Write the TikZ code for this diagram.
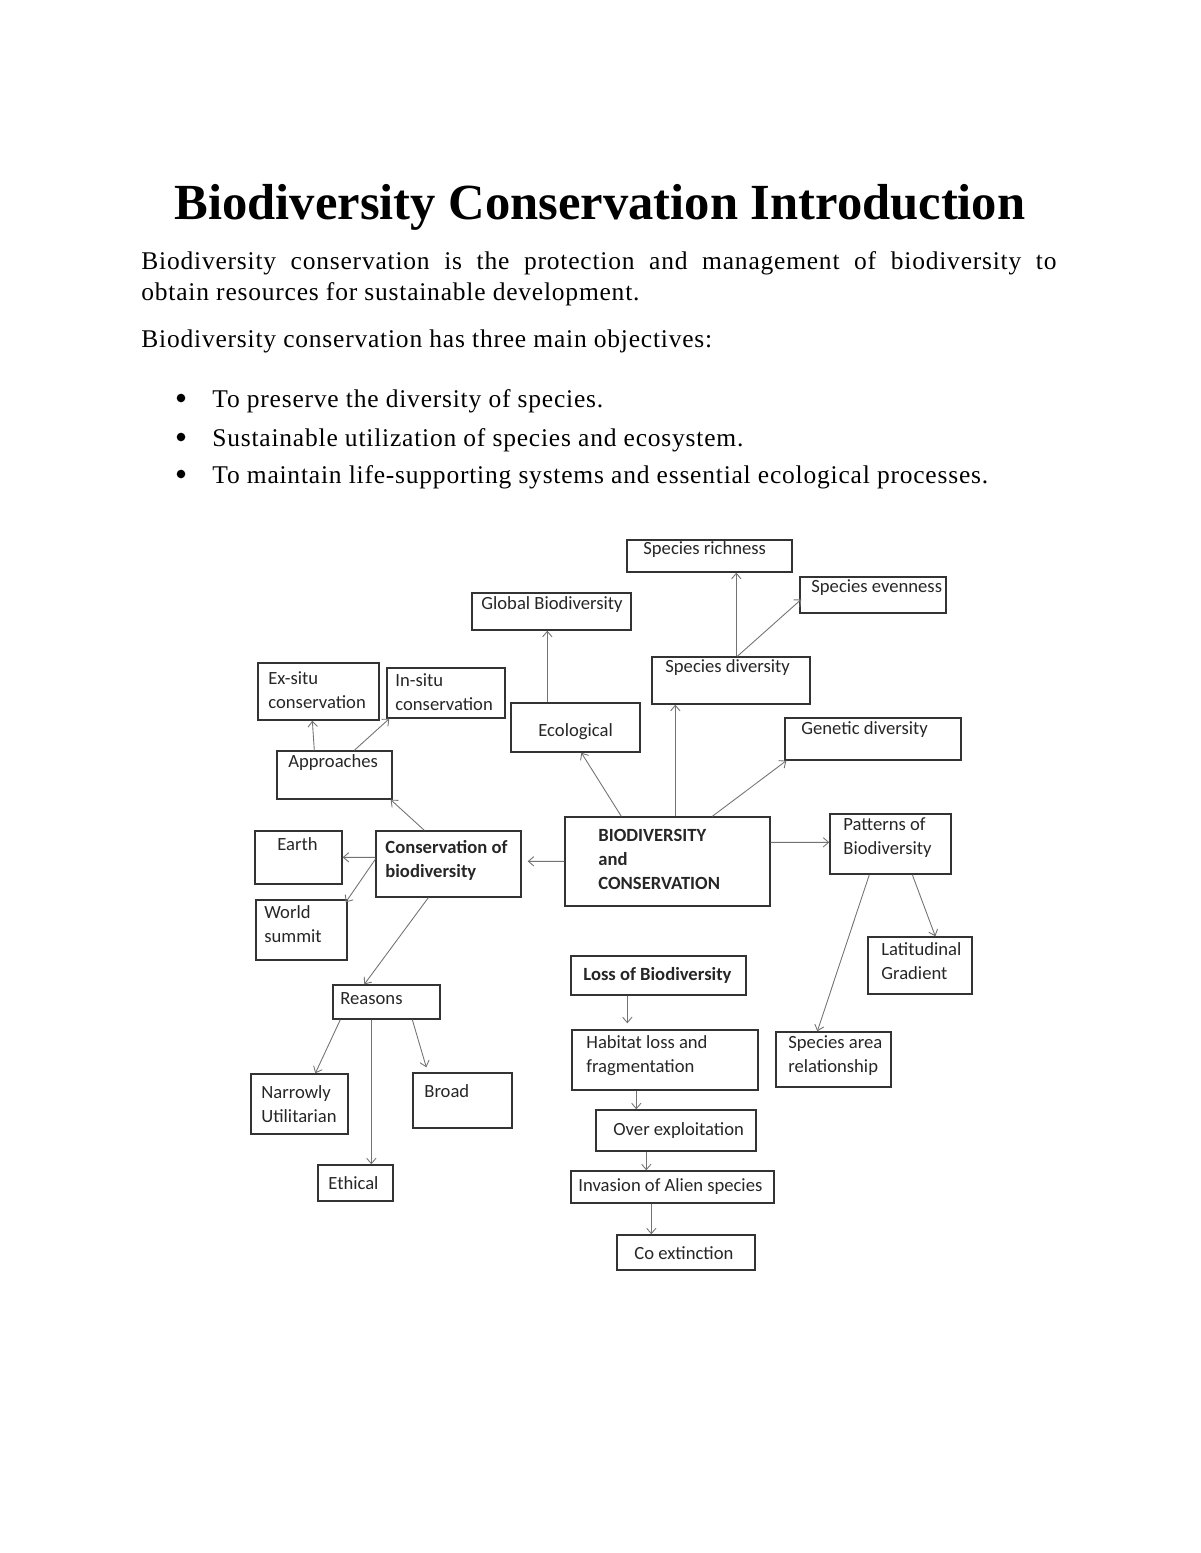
\documentclass[tikz,border=0pt]{standalone}
\usepackage{fontspec}
\setmainfont{Liberation Serif}
\newfontfamily\diagfont{Carlito}
\usetikzlibrary{positioning, fit, calc, arrows.meta}

\tikzset{
  box/.style={draw=black!80, line width=0.7pt, inner sep=0pt},
  lbl/.style={anchor=west, inner sep=0pt, align=left, text=black!85,
    font=\diagfont\fontsize{9.5}{12.2}\selectfont},
  link/.style={draw=black!55, line width=0.45pt,
    -{Straight Barb[length=2.8pt,width=4.8pt]}},
  body/.style={anchor=base west, inner sep=0pt,
    font=\addfontfeatures{LetterSpace=3.1}\fontsize{13}{15.8}\selectfont},
  bullet/.style={circle, fill=black, inner sep=0pt, minimum size=4.4pt},
}

\begin{document}
\begin{tikzpicture}[x=0.51pt, y=-0.51pt]
\useasboundingbox (0,0) rectangle (1200,1553);

% heading and text
\node[anchor=base, inner sep=0pt, font=\bfseries\fontsize{25.8}{30}\selectfont] (title) at (600,220) {Biodiversity Conservation Introduction};
\node[body] (intro1) at (141,269) {\makebox[466.7pt][s]{Biodiversity conservation is the protection and management of biodiversity to}};
\node[body] (intro2) at (141,300) {obtain resources for sustainable development.};
\node[body] (aims) at (141,347) {Biodiversity conservation has three main objectives:};
\node[bullet] (dot1) at (181,398) {};
\node[bullet] (dot2) at (181,437) {};
\node[bullet] (dot3) at (181,474) {};
\node[body] (aim1) at (212,407) {To preserve the diversity of species.};
\node[body] (aim2) at (212,446) {Sustainable utilization of species and ecosystem.};
\node[body] (aim3) at (212,483) {To maintain life-supporting systems and essential ecological processes.};

% boxes
\node[box, fit={(627,540) (792,572)}] (rich) {};
\node[box, fit={(800,577) (946,613)}] (even) {};
\node[box, fit={(472,593) (631,630)}] (glob) {};
\node[box, fit={(258,663) (379,720)}] (exsitu) {};
\node[box, fit={(387,668) (505,718)}] (insitu) {};
\node[box, fit={(511,703) (640,752)}] (eco) {};
\node[box, fit={(652,657) (810,704)}] (sdiv) {};
\node[box, fit={(785,718) (961,760)}] (gen) {};
\node[box, fit={(277,751) (392,799)}] (appr) {};
\node[box, fit={(255,831) (342,884)}] (earth) {};
\node[box, fit={(376,831) (521,897)}] (cons) {};
\node[box, fit={(565,817) (770,906)}] (bio) {};
\node[box, fit={(830,814) (951,874)}] (patt) {};
\node[box, fit={(256,900) (347,960)}] (world) {};
\node[box, fit={(868,937) (972,994)}] (lat) {};
\node[box, fit={(571,956) (746,995)}] (loss) {};
\node[box, fit={(333,985) (440,1019)}] (reas) {};
\node[box, fit={(572,1030) (758,1090)}] (hab) {};
\node[box, fit={(776,1032) (891,1087)}] (sar) {};
\node[box, fit={(251,1074) (348,1134)}] (narr) {};
\node[box, fit={(413,1073) (512,1128)}] (broad) {};
\node[box, fit={(596,1110) (756,1151)}] (over) {};
\node[box, fit={(318,1165) (393,1201)}] (eth) {};
\node[box, fit={(571,1171) (774,1203)}] (inv) {};
\node[box, fit={(617,1235) (755,1270)}] (coex) {};

% box texts
\node[lbl] (richT) at (643,550) {Species richness};
\node[lbl] (evenT) at (811,588) {Species evenness};
\node[lbl] (globT) at (481,605) {Global Biodiversity};
\node[lbl] (exsituT) at (268,690.5) {Ex-situ\\conservation};
\node[lbl] (insituT) at (395,692) {In-situ\\conservation};
\node[lbl] (ecoT) at (538,732) {Ecological};
\node[lbl] (sdivT) at (665,668) {Species diversity};
\node[lbl] (genT) at (801,730) {Genetic diversity};
\node[lbl] (apprT) at (288,763) {Approaches};
\node[lbl] (earthT) at (277,844) {Earth};
\node[lbl, font=\diagfont\bfseries\fontsize{9.5}{12.2}\selectfont] (consT) at (385,860) {Conservation of\\biodiversity};
\node[lbl, font=\diagfont\bfseries\fontsize{9.5}{12.2}\selectfont] (bioT) at (598,859.5) {BIODIVERSITY\\and\\CONSERVATION};
\node[lbl] (pattT) at (843,838) {Patterns of\\Biodiversity};
\node[lbl] (worldT) at (264,924.5) {World\\summit};
\node[lbl] (latT) at (881,961.5) {Latitudinal\\Gradient};
\node[lbl, font=\diagfont\bfseries\fontsize{9.5}{12.2}\selectfont] (lossT) at (583,975) {Loss of Biodiversity};
\node[lbl] (reasT) at (340,999) {Reasons};
\node[lbl] (habT) at (586,1056) {Habitat loss and\\fragmentation};
\node[lbl] (sarT) at (788,1055.5) {Species area\\relationship};
\node[lbl] (narrT) at (261,1104.5) {Narrowly\\Utilitarian};
\node[lbl] (broadT) at (424,1091) {Broad};
\node[lbl] (overT) at (613,1131) {Over exploitation};
\node[lbl] (ethT) at (328,1183) {Ethical};
\node[lbl] (invT) at (578,1187) {Invasion of Alien species};
\node[lbl] (coexT) at (634,1253) {Co extinction};

% connectors
\draw[link] ($(sdiv.north west)+(85,0)$) -- ($(rich.south west)+(110,0)$);
\draw[link] ($(sdiv.north west)+(86,0)$) -- ($(even.north west)+(2,23)$);
\draw[link] ($(eco.north west)+(37,0)$) -- ($(glob.south west)+(76,0)$);
\draw[link] ($(appr.north west)+(38,0)$) -- ($(exsitu.south west)+(55,0)$);
\draw[link] ($(appr.north west)+(78,0)$) -- ($(insitu.south west)+(3,0)$);
\draw[link] ($(cons.north west)+(49,0)$) -- ($(appr.south east)+(-2,0)$);
\draw[link] ($(bio.north west)+(57,0)$) -- ($(eco.south west)+(71,0)$);
\draw[link] ($(bio.north west)+(111,0)$) -- ($(sdiv.south west)+(24,0)$);
\draw[link] ($(bio.north west)+(148,0)$) -- ($(gen.south west)+(2,0)$);
\draw[link] ($(bio.north west)+(0,45)$) -- ($(cons.north east)+(6,31)$);
\draw[link] ($(bio.north east)+(0,26)$) -- ($(patt.north west)+(0,29)$);
\draw[link] ($(cons.north west)+(0,27)$) -- ($(earth.north east)+(0,27)$);
\draw[link] ($(cons.north west)+(0,29)$) -- ($(world.north east)+(-2,3)$);
\draw[link] ($(cons.south west)+(53,0)$) -- ($(reas.north west)+(32,0)$);
\draw[link] ($(patt.south west)+(83,0)$) -- ($(lat.north west)+(68,0)$);
\draw[link] ($(patt.south west)+(40,0)$) -- ($(sar.north west)+(42,0)$);
\draw[link] ($(reas.south west)+(8,0)$) -- ($(narr.north west)+(65,0)$);
\draw[link] ($(reas.south west)+(39,0)$) -- ($(eth.north west)+(54,0)$);
\draw[link] ($(reas.south west)+(80,0)$) -- ($(broad.north west)+(14,-5)$);
\draw[link] ($(loss.south west)+(57,0)$) -- ($(hab.north west)+(56,-6)$);
\draw[link] ($(hab.south west)+(65,0)$) -- ($(over.north west)+(41,0)$);
\draw[link] ($(over.south west)+(51,0)$) -- ($(inv.north west)+(76,0)$);
\draw[link] ($(inv.south west)+(81,0)$) -- ($(coex.north west)+(35,0)$);
\end{tikzpicture}
\end{document}
